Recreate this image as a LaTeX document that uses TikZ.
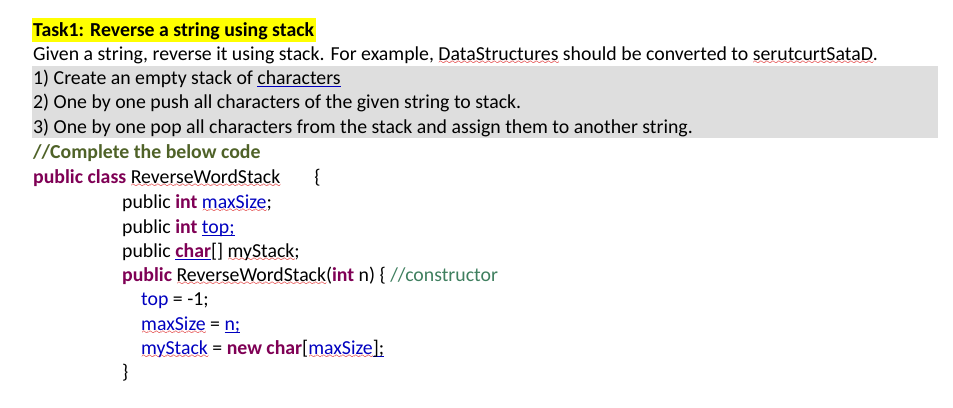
\documentclass[tikz,border=0pt]{standalone}
\usepackage{fontspec}
\setmainfont{Carlito}
\definecolor{kw}{HTML}{7F0055}
\definecolor{vr}{HTML}{0000C0}
\definecolor{cm}{HTML}{3F7F5F}
\definecolor{ol}{HTML}{4F6228}
\definecolor{hl}{HTML}{FFFF00}
\definecolor{gb}{HTML}{DEDEDE}
\newcommand\sqw[1]{{\setbox0\hbox{#1}\rlap{\color{red!85!black}\lower4pt\hbox to\wd0{\xleaders\hbox{\fontsize{9}{9}\selectfont$\sim$\kern-1.2pt}\hfil}}\box0}}
\newcommand\blu[1]{{\setbox0\hbox{#1}\rlap{\color{vr}\rule[-2.8pt]{\wd0}{0.8pt}}\box0}}
\newcommand\kwd[1]{\textcolor{kw}{\textbf{#1}}}
\begin{document}
\begin{tikzpicture}[x=1pt,y=-1pt,
  ln/.style={anchor=base west,inner sep=0pt,font=\fontsize{19.8}{22}\selectfont}]
\useasboundingbox (0,0) rectangle (953,407);
\fill[white] (0,0) rectangle (953,407);
\fill[hl] (32,18) rectangle (316,42);
\fill[gb] (32,66) rectangle (938,138);
\node[ln] (t) at (33,36) {\textbf{Task1: Reverse a string using stack}};
\node[ln] (g) at (33,60) {Given a string, reverse it using stack. For example, \sqw{DataStructures} should be converted to \sqw{serutcurtSataD}.};
\node[ln] (s1) at (33,84) {1) Create an empty stack of \blu{characters}};
\node[ln] (s2) at (33,108) {2) One by one push all characters of the given string to stack.};
\node[ln] (s3) at (33,133) {3) One by one pop all characters from the stack and assign them to another string.};
\node[ln,text=ol] (c) at (33,158) {\textbf{//Complete the below code}};
\node[ln] (cl) at (33,183) {\kwd{public class} \sqw{ReverseWordStack}\hspace{34pt}\{};
\node[ln] (f1) at (122,208) {public \kwd{int} \textcolor{vr}{\sqw{maxSize}};};
\node[ln] (f2) at (122,233) {public \kwd{int} \textcolor{vr}{\blu{top;}}};
\node[ln] (f3) at (122,257) {public \kwd{\blu{char}}[] \sqw{myStack};};
\node[ln] (ct) at (122,281) {\kwd{public} \sqw{ReverseWordStack}(\kwd{int} n) \{ \textcolor{cm}{//constructor}};
\node[ln] (b1) at (141,305) {\textcolor{vr}{top} = -1;};
\node[ln] (b2) at (141,330) {\textcolor{vr}{\sqw{maxSize}} = \textcolor{vr}{\blu{n;}}};
\node[ln] (b3) at (141,354) {\textcolor{vr}{\sqw{myStack}} = \kwd{new char}[\textcolor{vr}{\sqw{maxSize}}\blu{];}};
\node[ln] (e) at (122,378) {\}};
\end{tikzpicture}
\end{document}
